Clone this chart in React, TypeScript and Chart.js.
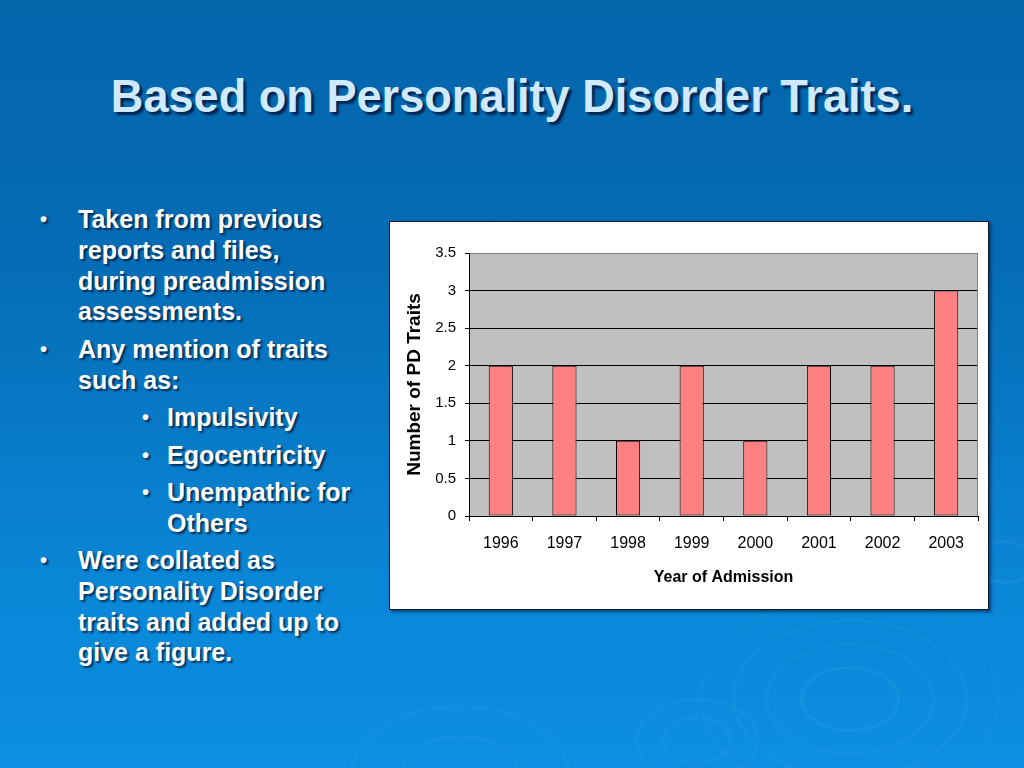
import React, { useEffect, useRef } from "react";
import { Chart, registerables } from "chart.js";

Chart.register(...registerables);

// chart data
const years = ["1996", "1997", "1998", "1999", "2000", "2001", "2002", "2003"];
const pdTraits = [2, 2, 1, 2, 1, 2, 2, 3];
const yTicksMin = 0;
const yTicksMax = 3.5;
const yTicksStep = 0.5;

const FONT = "'Liberation Sans', Arial, sans-serif";

// grey plot area + right edge like the old Excel chart
const plotBackground = {
  id: "plotBackground",
  beforeDraw(chart: Chart) {
    const { ctx, chartArea } = chart;
    ctx.save();
    ctx.fillStyle = "#C0C0C0";
    ctx.fillRect(chartArea.left, chartArea.top, chartArea.right - chartArea.left, chartArea.bottom - chartArea.top);
    ctx.restore();
  },
  afterDraw(chart: Chart) {
    const { ctx, chartArea } = chart;
    ctx.save();
    ctx.strokeStyle = "#808080";
    ctx.lineWidth = 1;
    ctx.beginPath();
    ctx.moveTo(Math.round(chartArea.right) - 0.5, chartArea.top);
    ctx.lineTo(Math.round(chartArea.right) - 0.5, chartArea.bottom);
    ctx.stroke();
    ctx.restore();
  },
};

const TraitsChart: React.FC = () => {
  const chartRef = useRef<HTMLCanvasElement>(null);
  const chartInstance = useRef<Chart | null>(null);

  useEffect(() => {
    if (!chartRef.current) return;
    const ctx = chartRef.current.getContext("2d");
    if (!ctx) return;

    if (chartInstance.current) {
      chartInstance.current.destroy();
    }
    chartInstance.current = new Chart(ctx, {
      type: "bar",
      data: {
        labels: years,
        datasets: [
          {
            label: "PD Traits",
            data: pdTraits,
            backgroundColor: "#FF8080",
            borderColor: "#000000",
            borderWidth: 1,
            borderSkipped: false,
            barPercentage: 0.38,
            categoryPercentage: 1,
          },
        ],
      },
      options: {
        animation: false,
        responsive: false,
        layout: { padding: { top: 31, right: 10, left: 0, bottom: 0 } },
        plugins: {
          legend: { display: false },
          tooltip: { enabled: false },
        },
        scales: {
          x: {
            grid: {
              drawOnChartArea: false,
              tickLength: 5,
              tickColor: "#000",
              offset: true,
            },
            border: { color: "#000", width: 1 },
            ticks: {
              color: "#000",
              font: { family: FONT, size: 16 },
              padding: 13,
              maxRotation: 0,
            },
            title: {
              display: true,
              text: "Year of Admission",
              color: "#000",
              font: { family: FONT, size: 16, weight: "bold" },
              padding: { top: 0, bottom: 22 },
            },
            afterFit(scale: any) {
              scale.height = 93;
            },
          },
          y: {
            min: yTicksMin,
            max: yTicksMax,
            ticks: {
              stepSize: yTicksStep,
              color: "#000",
              font: { family: FONT, size: 15 },
              padding: 9,
              callback: (v: any) => String(v),
            },
            grid: {
              color: (c: any) => (c.tick && c.tick.value === yTicksMax ? "#808080" : "#000"),
              tickColor: "#000",
              tickLength: 4,
              lineWidth: 1,
            },
            border: { color: "#000", width: 1 },
            title: {
              display: true,
              text: "Number of PD Traits",
              color: "#000",
              font: { family: FONT, size: 19, weight: "bold" },
              padding: { top: 13, bottom: 0 },
            },
            afterFit(scale: any) {
              scale.width = 79;
            },
          },
        },
      },
      plugins: [plotBackground],
    });

    return () => {
      if (chartInstance.current) {
        chartInstance.current.destroy();
        chartInstance.current = null;
      }
    };
  }, []);

  return <canvas ref={chartRef} width={598} height={387} style={{ display: "block" }}></canvas>;
};

const shadow = "2px 2px 2px rgba(0, 20, 50, 0.75)";

const bulletLine: React.CSSProperties = {
  position: "relative",
  paddingLeft: 78,
  whiteSpace: "nowrap",
};

const dot: React.CSSProperties = { position: "absolute", left: 40, fontSize: 20 };
const subDot: React.CSSProperties = { position: "absolute", left: 142, fontSize: 20 };

const Ring: React.FC<{ cx: number; cy: number; rx: number; ry: number; a?: number }> = ({ cx, cy, rx, ry, a = 0.06 }) => (
  <div
    style={{
      position: "absolute",
      left: cx - rx,
      top: cy - ry,
      width: rx * 2,
      height: ry * 2,
      borderRadius: "50%",
      border: `3px solid rgba(160, 210, 255, ${a})`,
      boxSizing: "border-box",
    }}
  />
);

export default function App() {
  return (
    <div
      style={{
        position: "fixed",
        left: 0,
        top: 0,
        width: 1024,
        height: 768,
        overflow: "hidden",
        background: "linear-gradient(180deg, #0465ab 0%, #056db6 35%, #0a86d6 75%, #0c8fe2 100%)",
        fontFamily: FONT,
      }}
    >
      {/* faint ripples */}
      <Ring cx={850} cy={699} rx={118} ry={80} />
      <Ring cx={850} cy={699} rx={85} ry={56} a={0.05} />
      <Ring cx={850} cy={699} rx={50} ry={33} a={0.07} />
      <Ring cx={850} cy={699} rx={150} ry={104} a={0.04} />
      <Ring cx={697} cy={740} rx={62} ry={42} a={0.05} />
      <Ring cx={697} cy={740} rx={35} ry={24} a={0.05} />
      <Ring cx={460} cy={775} rx={110} ry={70} a={0.05} />
      <Ring cx={460} cy={775} rx={60} ry={40} a={0.05} />
      <Ring cx={1005} cy={562} rx={30} ry={22} a={0.08} />

      <div
        style={{
          position: "absolute",
          left: 0,
          top: 70,
          width: 1024,
          textAlign: "center",
          fontSize: 47,
          lineHeight: "52px",
          fontWeight: "bold",
          color: "#CFE9FF",
          textShadow: "3px 3px 2px rgba(0, 20, 60, 0.8)",
          whiteSpace: "nowrap",
          transform: "scaleX(0.96)",
        }}
      >
        Based on Personality Disorder Traits.
      </div>

      <div
        style={{
          position: "absolute",
          left: 0,
          top: 204,
          width: 380,
          color: "#FFFFFF",
          fontSize: 25,
          fontWeight: "bold",
          lineHeight: "30.8px",
          textShadow: shadow,
        }}
      >
        <div style={bulletLine}>
          <span style={dot}>•</span>
          Taken from previous
          <br />
          reports and files,
          <br />
          during preadmission
          <br />
          assessments.
        </div>
        <div style={{ ...bulletLine, marginTop: 7 }}>
          <span style={dot}>•</span>
          Any mention of traits
          <br />
          such as:
        </div>
        <div style={{ ...bulletLine, paddingLeft: 167, marginTop: 6.5 }}>
          <span style={subDot}>•</span>
          Impulsivity
        </div>
        <div style={{ ...bulletLine, paddingLeft: 167, marginTop: 6.5 }}>
          <span style={subDot}>•</span>
          Egocentricity
        </div>
        <div style={{ ...bulletLine, paddingLeft: 167, marginTop: 6.5 }}>
          <span style={subDot}>•</span>
          Unempathic for
          <br />
          Others
        </div>
        <div style={{ ...bulletLine, marginTop: 6.5 }}>
          <span style={dot}>•</span>
          Were collated as
          <br />
          Personality Disorder
          <br />
          traits and added up to
          <br />
          give a figure.
        </div>
      </div>

      <div
        style={{
          position: "absolute",
          left: 389,
          top: 221,
          width: 600,
          height: 389,
          boxSizing: "border-box",
          border: "1px solid #0b1a33",
          background: "#FFFFFF",
          boxShadow: "2px 2px 3px rgba(0, 20, 50, 0.6)",
        }}
      >
        <TraitsChart />
      </div>
    </div>
  );
}
